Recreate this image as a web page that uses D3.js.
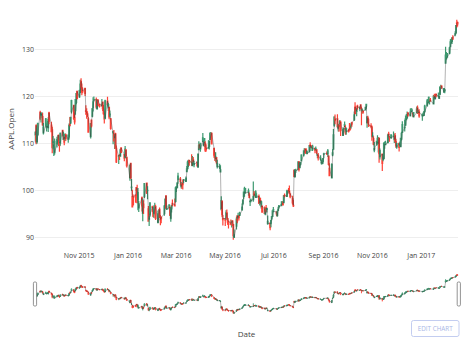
<!DOCTYPE html>
<html>
<head>
<meta charset="utf-8">
<script src="https://cdn.jsdelivr.net/npm/d3@7"></script>
<style>
  html, body { margin: 0; padding: 0; background: #fff; }
  svg { display: block; font-family: "Open Sans", "DejaVu Sans", sans-serif; }
</style>
</head>
<body>
<svg id="chart" width="474" height="342"></svg>
<script>
// ---------------- DATA (AAPL daily OHLC) ----------------
const firstDay = "2015-09-08";
const lastDay = "2017-02-16";
const holidays = ["2015-11-26","2015-12-25","2016-01-01","2016-01-18","2016-02-15","2016-03-25",
  "2016-05-30","2016-07-04","2016-09-05","2016-11-24","2016-12-26","2017-01-02","2017-01-16"];

const open = [
// Sep 2015
111.75,113.76,110.27,111.79,116.58,115.93,116.25,115.66,112.21,113.67,113.38,113.63,113.25,116.44,113.85,112.83,110.17,
// Oct 2015
109.07,108.01,109.88,110.63,111.74,110.19,110.00,112.73,110.82,111.29,110.93,111.78,110.80,111.34,114.00,114.33,116.70,118.08,115.40,116.93,118.70,120.99,
// Nov 2015
119.87,120.79,123.13,121.85,121.11,121.65,116.90,116.37,116.26,115.20,111.38,114.92,115.76,117.64,119.20,119.27,117.33,119.21,118.29,117.99,
// Dec 2015
118.75,117.34,116.55,115.29,118.98,117.52,117.64,116.04,115.19,112.18,111.94,111.07,112.02,108.91,107.28,107.40,107.27,109.00,107.59,106.96,108.58,107.01,
// Jan 2016
102.61,105.75,100.56,98.68,98.55,98.97,100.55,100.32,97.96,96.20,98.41,95.10,97.06,98.63,101.52,99.93,96.04,93.79,94.79,
// Feb 2016
96.47,95.42,95.00,95.86,96.52,93.13,94.29,95.92,93.79,94.19,95.02,96.67,98.84,96.00,96.31,96.40,93.98,96.05,97.20,96.86,
// Mar 2016
97.65,100.51,100.58,102.37,102.39,100.78,101.31,101.41,102.24,101.91,103.96,104.61,105.52,106.34,105.93,105.25,106.48,105.47,106.00,104.89,108.65,109.72,
// Apr 2016
108.78,110.42,109.51,110.23,109.95,108.91,108.97,109.34,110.80,111.62,112.11,108.89,107.88,106.64,106.93,105.01,105.00,103.91,96.00,97.61,93.99,
// May 2016
93.97,94.20,95.20,94.00,93.37,93.00,93.33,93.48,92.72,90.00,92.39,94.55,94.16,94.64,94.64,95.87,97.22,98.67,99.68,99.44,99.60,
// Jun 2016
99.02,97.60,97.79,97.99,99.25,99.02,98.50,98.53,98.69,97.32,97.82,96.45,96.62,96.00,94.94,96.25,95.94,92.91,93.00,92.90,93.97,94.44,
// Jul 2016
95.49,95.39,94.60,95.70,96.49,96.75,97.17,97.41,97.39,98.92,98.70,99.56,100.00,99.83,99.26,98.25,96.82,104.27,102.83,104.19,
// Aug 2016
104.41,106.05,104.81,105.58,106.27,107.52,108.23,108.71,108.52,107.78,108.14,109.63,109.10,109.23,108.77,108.86,108.59,108.57,107.39,107.41,106.62,105.80,105.66,
// Sep 2016
106.14,107.70,107.90,107.83,107.25,104.64,102.65,107.51,108.73,113.86,115.12,115.19,113.05,113.85,114.35,114.42,111.64,113.00,113.69,113.16,112.46,
// Oct 2016
112.71,113.06,113.40,113.70,114.31,115.02,117.70,117.35,116.79,117.88,117.33,118.18,117.25,116.86,116.81,117.10,117.95,114.31,115.39,113.87,113.65,
// Nov 2016
113.46,111.40,110.98,108.53,110.08,110.31,109.88,111.09,107.12,107.71,106.57,106.70,109.81,109.72,110.12,111.95,111.36,111.13,111.43,110.78,111.60,
// Dec 2016
110.37,109.17,110.00,109.50,109.26,110.86,112.31,113.29,113.84,115.04,115.38,116.47,115.80,116.74,116.80,116.35,115.59,116.52,117.52,116.45,116.65,
// Jan 2017
115.80,115.85,115.92,116.78,117.95,118.77,118.74,118.90,119.11,118.34,120.00,119.40,120.45,120.00,119.55,120.42,121.67,122.14,120.93,121.15,
// Feb 2017
127.03,127.98,128.31,129.13,130.54,131.35,131.65,132.46,133.08,133.47,135.52,135.67
];

const high = [
112.56,114.02,113.28,114.21,116.89,116.53,116.54,116.49,114.30,115.37,114.18,114.72,115.50,116.69,114.57,113.51,111.54,
109.62,111.01,111.37,111.74,111.77,110.19,112.28,112.75,112.45,111.52,112.10,112.00,111.75,114.17,115.58,115.50,119.23,118.13,116.54,119.30,120.69,121.22,
121.36,123.49,123.82,122.69,121.81,121.81,118.07,117.42,116.82,115.57,114.24,115.05,117.49,119.75,119.92,119.73,119.35,119.23,118.41,119.41,
118.81,118.11,116.79,119.25,119.86,118.60,117.69,116.94,115.39,112.68,112.80,111.99,112.25,109.52,107.37,107.72,108.85,109.00,107.69,109.43,108.70,107.03,
105.37,105.85,102.37,100.13,99.11,99.06,100.69,101.19,100.48,97.71,98.65,98.19,97.88,101.46,101.53,100.88,96.63,94.52,97.34,
96.71,96.04,96.84,97.33,96.92,95.70,95.94,96.35,94.72,94.50,96.85,98.21,98.89,96.76,96.90,96.50,96.38,96.76,98.02,98.23,
100.77,100.89,101.71,103.75,102.83,101.76,101.58,102.24,102.28,102.91,105.18,106.35,106.47,106.50,107.65,107.29,107.07,106.25,106.19,107.79,110.42,109.90,
110.00,112.19,110.73,110.98,110.42,109.77,110.61,110.50,112.34,112.39,112.30,108.95,108.00,108.09,106.93,106.48,105.65,105.30,98.71,97.88,94.72,
94.08,95.74,95.90,94.07,93.45,93.77,93.57,93.57,92.78,91.67,94.39,94.70,95.21,94.64,95.43,97.19,98.09,99.74,100.73,100.47,100.40,
99.54,97.84,98.27,101.89,99.87,99.56,99.99,99.35,99.12,98.48,98.41,97.75,96.65,96.57,96.35,96.89,96.29,94.66,93.05,93.66,94.55,95.77,
96.47,95.40,95.66,96.50,96.89,97.65,97.70,97.67,98.99,99.30,100.13,100.00,100.46,101.00,99.30,98.84,97.97,104.35,104.45,104.55,
106.15,106.07,105.84,106.00,107.65,108.37,108.94,108.90,108.93,108.44,109.54,110.23,109.37,109.60,109.69,109.10,109.32,108.75,107.79,107.95,107.44,106.50,106.57,
106.80,108.00,108.30,108.76,107.27,105.72,105.72,108.79,113.03,115.73,116.13,116.18,114.12,113.99,114.94,114.79,113.39,113.18,114.64,113.80,113.37,
113.05,114.31,113.66,114.34,114.56,116.75,118.69,117.98,117.44,118.17,117.84,118.21,117.76,117.38,116.91,117.74,118.36,115.70,115.86,115.21,114.23,
113.77,112.35,111.46,110.25,110.51,111.72,111.32,111.09,108.87,107.81,107.68,110.23,110.35,110.54,111.99,112.42,111.51,111.87,112.47,112.03,112.20,
110.94,110.09,110.03,110.36,111.19,112.43,114.70,115.00,115.92,116.20,116.73,116.50,117.38,117.50,117.40,116.51,116.52,117.80,118.02,117.11,117.20,
116.33,116.51,116.86,118.16,119.43,119.38,119.93,119.30,119.62,120.24,120.50,120.09,120.45,120.81,120.10,122.10,122.44,122.35,121.63,121.39,
130.49,129.39,129.19,130.50,132.09,132.22,132.45,132.94,133.82,135.09,136.27,135.90
];

const low = [
110.32,109.77,109.90,111.76,114.86,114.42,115.44,113.72,111.87,113.66,112.52,113.30,112.37,114.02,112.44,107.86,108.73,
107.31,107.55,109.07,109.77,109.41,108.21,109.49,111.44,110.68,109.56,110.49,110.53,110.11,110.82,113.70,114.10,116.33,114.92,113.99,116.06,118.27,119.45,
119.61,120.70,121.62,120.18,120.62,120.05,116.06,115.21,115.65,112.27,111.00,113.32,115.50,116.76,118.85,117.34,117.12,117.92,117.60,117.75,
116.86,116.08,114.22,115.11,117.81,116.86,115.08,115.51,112.85,109.79,110.35,108.80,108.98,105.81,105.57,106.45,107.20,107.95,106.18,106.86,107.18,104.82,
102.00,102.41,99.87,96.43,96.76,97.34,98.84,97.30,95.74,95.36,95.50,93.42,94.94,98.37,99.21,98.07,93.34,92.39,94.35,
95.40,94.28,94.08,95.19,93.69,93.04,93.93,94.10,92.59,93.01,94.61,96.15,96.09,95.80,95.92,94.55,93.32,95.25,96.58,96.65,
97.42,99.64,100.45,101.37,100.96,100.40,100.27,100.15,101.50,101.78,103.85,104.59,104.96,105.19,105.14,105.21,105.90,104.89,105.06,104.88,108.60,108.88,
108.20,110.27,109.42,109.20,108.12,108.17,108.83,108.66,110.80,111.33,109.73,106.94,106.23,106.06,105.52,104.62,104.51,103.91,95.68,94.25,92.51,
92.40,93.68,93.82,92.68,91.85,92.59,92.11,92.46,89.47,90.00,91.65,93.01,93.89,93.57,94.52,95.67,96.84,98.11,98.64,99.25,98.82,
98.33,96.63,97.45,97.55,98.96,98.68,98.46,98.48,97.10,96.75,97.03,96.07,95.30,95.03,94.68,95.35,95.25,92.65,91.50,92.14,93.63,94.30,
95.33,94.46,94.37,95.62,96.05,96.73,97.12,96.84,97.32,98.50,98.60,99.34,99.74,99.13,98.31,96.92,96.42,102.75,102.82,103.68,
104.41,104.00,104.77,105.28,106.18,107.16,108.01,107.76,107.85,107.78,108.08,109.21,108.34,109.02,108.36,107.85,108.53,107.68,106.82,106.31,106.29,105.50,105.64,
105.62,106.82,107.51,107.07,105.24,103.13,102.53,107.24,108.60,113.49,114.04,113.25,112.51,112.44,114.00,111.55,111.55,112.34,113.43,111.80,111.80,
112.28,112.63,112.69,113.13,113.51,114.72,116.20,116.75,115.72,117.13,116.78,117.45,113.80,116.33,116.28,117.00,117.31,113.31,114.10,113.45,113.20,
110.53,111.23,109.55,108.11,109.46,109.70,108.05,105.83,106.55,104.08,106.16,106.60,108.83,109.66,110.01,111.40,110.33,110.95,111.39,110.07,110.27,
109.03,108.85,108.25,109.19,109.16,110.60,112.31,112.49,113.75,114.98,115.23,115.65,115.75,116.68,116.78,115.64,115.59,116.49,116.20,116.40,115.43,
114.76,115.75,115.81,116.47,117.94,118.30,118.60,118.21,118.81,118.22,119.71,119.37,119.73,119.77,119.50,120.28,121.60,121.60,120.66,120.62,
127.01,127.78,128.16,128.90,130.45,131.22,131.12,132.05,132.75,133.25,134.62,134.84
];

const close = [
112.31,110.15,112.57,114.21,115.31,116.28,116.41,113.92,113.45,115.21,113.40,114.32,115.00,114.71,112.44,109.06,110.30,
109.58,110.38,110.78,111.31,110.78,109.50,112.12,111.60,111.79,110.21,111.86,111.04,111.73,113.77,113.76,115.50,119.08,115.28,114.55,119.27,120.53,119.50,
121.18,122.57,122.00,120.92,121.06,120.57,116.77,116.11,115.72,112.34,114.18,113.69,117.29,118.78,119.30,117.75,118.88,118.03,117.81,118.30,
117.34,116.28,115.20,119.03,118.28,118.23,115.62,116.17,113.18,112.48,110.49,111.34,108.98,106.03,107.33,107.23,108.61,108.03,106.82,108.74,107.32,105.26,
105.35,102.71,100.70,96.45,96.96,98.53,99.96,97.39,99.52,97.13,96.66,96.79,96.30,101.42,99.44,99.99,93.42,94.09,97.34,
96.43,94.48,96.35,96.60,94.02,95.01,94.99,94.27,93.70,93.99,96.64,98.12,96.26,96.04,96.88,94.69,96.10,96.76,96.91,96.69,
100.53,100.75,101.50,103.01,101.87,101.03,101.12,101.17,102.26,102.52,104.58,105.97,105.80,105.92,105.91,106.72,106.13,105.67,105.19,107.68,109.56,108.99,
109.99,111.12,109.81,110.96,108.54,108.66,109.02,110.44,112.04,112.10,109.85,107.48,106.91,107.13,105.97,105.68,105.08,104.35,97.82,94.83,93.74,
93.64,95.18,94.19,93.24,92.72,92.79,93.42,92.51,90.34,90.52,93.88,93.49,94.56,94.20,95.22,96.43,97.90,99.62,100.41,100.35,99.86,
98.46,97.72,97.92,98.63,99.03,98.94,99.65,98.83,97.34,97.46,97.14,97.55,95.33,95.10,95.91,95.55,96.10,93.40,92.04,93.59,94.40,95.60,
95.89,94.99,95.53,95.94,96.68,96.98,97.42,96.87,98.79,98.78,99.83,99.87,99.96,99.43,98.66,97.34,96.67,102.95,104.34,104.21,
106.05,104.48,105.79,105.87,107.48,108.37,108.81,108.00,107.93,108.18,109.48,109.38,109.22,109.08,109.36,108.51,108.85,108.03,107.57,106.94,106.82,106.00,106.10,
106.73,107.73,107.70,108.36,105.52,103.13,105.44,107.95,111.77,115.57,114.92,113.58,113.57,113.55,114.62,112.71,112.88,113.09,113.95,112.18,113.05,
112.52,113.00,113.05,113.89,114.06,116.05,116.30,117.34,116.98,117.63,117.55,117.47,117.12,117.06,116.60,117.65,118.25,115.59,114.48,113.72,113.54,
111.49,111.59,109.83,108.84,110.41,111.06,110.88,107.79,108.43,105.71,107.11,109.99,109.95,110.06,111.73,111.80,111.23,111.79,111.57,111.46,110.52,
109.49,109.90,109.11,109.95,111.03,112.12,113.95,113.30,115.19,115.19,115.82,115.97,116.64,116.95,117.06,116.29,116.52,117.26,116.76,116.73,115.82,
116.15,116.02,116.61,117.91,118.99,119.11,119.75,119.25,119.04,120.00,119.99,119.78,120.00,120.08,119.97,121.88,121.94,121.95,121.63,121.35,
128.75,128.53,129.08,130.29,131.53,132.04,132.42,132.12,133.29,135.02,135.51,135.35
];

const yTicks = [90, 100, 110, 120, 130];
const xTickDates = ["2015-11-01","2016-01-01","2016-03-01","2016-05-01","2016-07-01","2016-09-01","2016-11-01","2017-01-01"];
const yTitle = "AAPL.Open";
const xTitle = "Date";

// ---------------- trading-day calendar ----------------
const parse = d3.utcParse("%Y-%m-%d");
const fmtKey = d3.utcFormat("%Y-%m-%d");
const holidaySet = new Set(holidays);
const dates = d3.utcDays(parse(firstDay), d3.utcDay.offset(parse(lastDay), 1))
  .filter(d => d.getUTCDay() !== 0 && d.getUTCDay() !== 6 && !holidaySet.has(fmtKey(d)));

const n = Math.min(dates.length, open.length, high.length, low.length, close.length);
const rows = d3.range(n).map(i => ({date: dates[i], o: open[i], h: high[i], l: low[i], c: close[i]}));

// ---------------- layout ----------------
const svg = d3.select("#chart");
const plotL = 35, plotR = 458, plotT = 12, plotB = 247;
const slT = 273, slB = 315;
const INC = "#3D9970", DEC = "#FF4136";

const halfDay = 12 * 3600 * 1000;
const x = d3.scaleUtc()
  .domain([new Date(rows[0].date.getTime() - halfDay), new Date(rows[n - 1].date.getTime() + halfDay)])
  .range([plotL, plotR]);
const y = d3.scaleLinear().domain([87.94, 137.9]).range([plotB, plotT]);
const ys = d3.scaleLinear().domain([87.94, 137.9]).range([slB, slT]);

// grid
svg.append("g").selectAll("line").data(yTicks).join("line")
  .attr("x1", plotL).attr("x2", plotR)
  .attr("y1", d => Math.round(y(d)) + 0.5).attr("y2", d => Math.round(y(d)) + 0.5)
  .attr("stroke", "#eeeeee").attr("stroke-width", 1);

// y axis labels
const yAxis = d3.axisLeft(y).tickValues(yTicks).tickSize(0).tickPadding(0);
const gy = svg.append("g").attr("transform", `translate(${plotL - 1},0)`).call(yAxis);
gy.select(".domain").remove();
gy.selectAll("text").attr("font-family", "'Open Sans', sans-serif").attr("font-size", 7)
  .attr("fill", "#444").attr("dy", "0.33em");

// x axis labels
const xAxis = d3.axisBottom(x).tickValues(xTickDates.map(parse)).tickFormat(d3.utcFormat("%b %Y"))
  .tickSize(0).tickPadding(0);
const gx = svg.append("g").attr("transform", `translate(0,${plotB + 6})`).call(xAxis);
gx.select(".domain").remove();
gx.selectAll("text").attr("font-family", "'Open Sans', sans-serif").attr("font-size", 7)
  .attr("fill", "#444").attr("dy", "0.71em");

// candles
function candlePath(d, ys_, bw) {
  const cx = x(d.date);
  const top = ys_(Math.max(d.o, d.c)), bot = ys_(Math.min(d.o, d.c));
  const hh = ys_(d.h), ll = ys_(d.l);
  const bh = Math.max(bot - top, 0.01);
  return `M${cx},${hh}V${top}M${cx - bw / 2},${top}h${bw}v${bh}h${-bw}ZM${cx},${bot}V${ll}`;
}
function drawCandles(g, ys_, sw, lw) {
  g.selectAll("path.candle").data(rows).join("path").attr("class", "candle")
    .attr("d", d => candlePath(d, ys_, 0.7))
    .attr("stroke", d => d.c >= d.o ? INC : DEC)
    .attr("fill", d => d.c >= d.o ? INC : DEC)
    .attr("fill-opacity", 0.5)
    .attr("stroke-width", sw);
  // thin dark line through the opening values
  g.append("path").datum(rows)
    .attr("d", d3.line().x(d => x(d.date)).y(d => ys_(d.o)))
    .attr("fill", "none").attr("stroke", "#333").attr("stroke-opacity", 0.75).attr("stroke-width", lw);
}
svg.append("defs").append("clipPath").attr("id", "clipMain")
  .append("rect").attr("x", plotL - 2).attr("y", plotT).attr("width", plotR - plotL + 4).attr("height", plotB - plotT);
drawCandles(svg.append("g").attr("clip-path", "url(#clipMain)"), y, 1.2, 0.5);

// range slider
svg.append("rect").attr("x", plotL).attr("y", slT).attr("width", plotR - plotL).attr("height", slB - slT).attr("fill", "#fff");
drawCandles(svg.append("g"), ys, 0.9, 0.5);
const hH = 24, hW = 3.2, hY = (slT + slB) / 2 - hH / 2;
[plotL, plotR + 0.8].forEach(px => {
  svg.append("rect").attr("x", px - hW / 2).attr("y", hY).attr("width", hW).attr("height", hH)
    .attr("rx", 1.2).attr("fill", "#fff").attr("stroke", "#777").attr("stroke-width", 0.8);
});

// titles
svg.append("text").attr("transform", `translate(11.5,129) rotate(-90)`)
  .attr("text-anchor", "middle").attr("dy", "0.35em")
  .attr("font-size", 8).attr("fill", "#444").text(yTitle);
svg.append("text").attr("x", (plotL + plotR) / 2).attr("y", 337)
  .attr("text-anchor", "middle").attr("font-size", 8).attr("fill", "#444").text(xTitle);

// edit chart button
svg.append("rect").attr("x", 411.5).attr("y", 320.5).attr("width", 47.5).attr("height", 16)
  .attr("rx", 2).attr("fill", "#fff").attr("stroke", "#c3cdf0").attr("stroke-width", 1);
svg.append("text").attr("x", 435.25).attr("y", 330.8).attr("text-anchor", "middle")
  .attr("font-size", 6.3).attr("fill", "#a9b7e6").text("EDIT CHART");
</script>
</body>
</html>
